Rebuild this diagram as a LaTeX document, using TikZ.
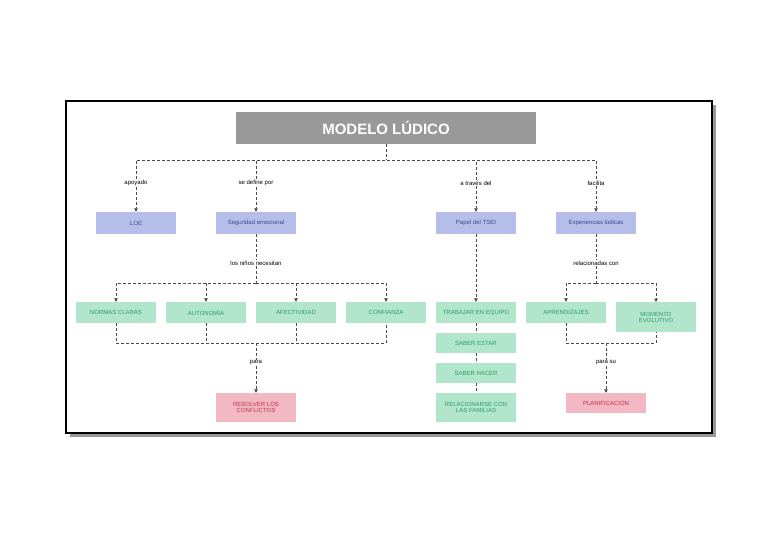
\documentclass[tikz,border=0pt]{standalone}
\usepackage{fontspec}
\setmainfont{Liberation Sans}
\usetikzlibrary{arrows.meta}
\definecolor{bfill}{HTML}{B4BEE8}\definecolor{btext}{HTML}{3A4A8A}
\definecolor{gfill}{HTML}{B2E6CC}\definecolor{gtext}{HTML}{2A9A66}
\definecolor{pfill}{HTML}{F2B8C4}\definecolor{ptext}{HTML}{C03048}
\begin{document}
\begin{tikzpicture}[x=1pt,y=-1pt,
 box/.style={minimum width=80pt,inner sep=1pt,align=center,font=\fontsize{6}{6.5}\selectfont},
 bbox/.style={box,fill=bfill,text=btext,minimum height=22pt},
 gbox/.style={box,fill=gfill,text=gtext,minimum height=21pt},
 pbox/.style={box,fill=pfill,text=ptext},
 lab/.style={font=\fontsize{6}{7}\selectfont,inner sep=1pt},
 dl/.style={dashed,dash pattern=on 3pt off 2pt,line width=0.5pt,black!70},
 ar/.style={dl,-{Triangle[length=3.5pt,width=3.5pt]}}]
\useasboundingbox (0,0) rectangle (768,543);
\fill[black!40] (70,105) rectangle (716,437);
\fill[white] (66,101) rectangle (712,433);
\draw[line width=2.5pt] (66,101) rectangle (712,433);
\node[fill=black!40,text=white,minimum width=300pt,minimum height=32pt,font=\bfseries\fontsize{15}{15}\selectfont] (t) at (386,128) {MODELO LÚDICO};
% level1
\node[bbox] (loe) at (136,223) {LOE};
\node[bbox] (seg) at (256,223) {Seguridad emocional};
\node[bbox] (pap) at (476,223) {Papel del TSEI};
\node[bbox] (exp) at (596,223) {Experiencias lúdicas};
\node[lab] (l1) at (136,183) {apoyado};
\node[lab] (l2) at (256,183) {se define por};
\node[lab] (l3) at (476,183) {a través del};
\node[lab] (l4) at (596,183) {facilita};
\coordinate (c0) at (386,160);
\draw[dl] (t.south) -- (c0);
\draw[dl] (l1.north) |- (c0) -| (l4.north);
\draw[dl] (l2.north) -- (l2.north|-c0);
\draw[dl] (l3.north) -- (l3.north|-c0);
\foreach \a/\b in {l1/loe,l2/seg,l3/exp,l4/exp}{}
\draw[ar] (l1) -- (loe);\draw[ar] (l2) -- (seg);\draw[ar] (l3) -- (pap);\draw[ar] (l4) -- (exp);
% left branch
\node[lab] (l5) at (256,263) {los niños necesitan};
\draw[dl] (seg) -- (l5);
\node[gbox] (nor) at (116,312.5) {NORMAS CLARAS};
\node[gbox] (aut) at (206,312.5) {AUTONOMÍA};
\node[gbox] (afe) at (296,312.5) {AFECTIVIDAD};
\node[gbox] (con) at (386,312.5) {CONFIANZA};
\coordinate (c1) at (256,283);
\draw[dl] (l5) -- (c1);
\draw[ar] (c1) -| (nor.north);\draw[ar] (c1) -| (aut.north);
\draw[ar] (c1) -| (afe.north);\draw[ar] (c1) -| (con.north);
\coordinate (c2) at (256,343);
\draw[dl] (nor.south) |- (c2) -| (con.south);
\draw[dl] (aut.south) -- (aut.south|-c2);\draw[dl] (afe.south) -- (afe.south|-c2);
\node[lab] (l6) at (256,363) {para};
\draw[dl] (c2) -- (l6);
\node[pbox,minimum height=29pt] (res) at (256,407.5) {RESOLVER LOS\\CONFLICTOS};
\draw[ar] (l6) -- (res);
% middle
\node[gbox] (tra) at (476,312.5) {TRABAJAR EN EQUIPO};
\node[gbox,minimum height=20pt] (est) at (476,343) {SABER ESTAR};
\node[gbox,minimum height=20pt] (hac) at (476,373) {SABER HACER};
\node[gbox,minimum height=29pt] (rel) at (476,407.5) {RELACIONARSE CON\\LAS FAMILIAS};
\draw[ar] (pap) -- (tra);
\draw[dl] (tra) -- (est);\draw[dl] (est) -- (hac);\draw[dl] (hac) -- (rel);
% right
\node[lab] (l7) at (596,263) {relacionadas con};
\draw[dl] (exp) -- (l7);
\coordinate (c3) at (596,283);
\draw[dl] (l7) -- (c3);
\node[gbox] (apr) at (566,312.5) {APRENDIZAJES};
\node[gbox,minimum height=30pt,anchor=north] (mom) at (656,302) {MOMENTO\\EVOLUTIVO};
\draw[ar] (c3) -| (apr.north);\draw[ar] (c3) -| (mom.north);
\coordinate (c4) at (606,343);
\draw[dl] (apr.south) |- (c4) -| (mom.south);
\node[lab] (l8) at (606,363) {para su};
\draw[dl] (c4) -- (l8);
\node[pbox,minimum height=20pt] (pla) at (606,403) {PLANIFICACIÓN};
\draw[ar] (l8) -- (pla);
\end{tikzpicture}
\end{document}
